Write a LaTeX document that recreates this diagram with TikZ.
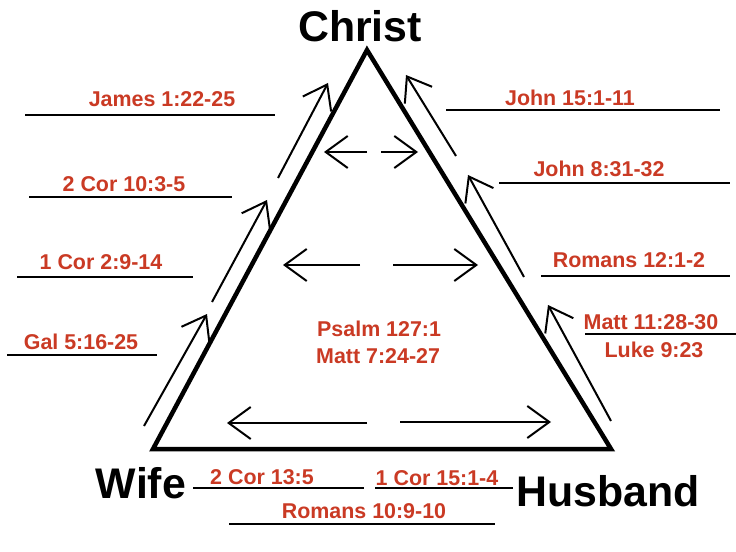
\documentclass[tikz,border=0pt]{standalone}
\usepackage{fontspec}
\setmainfont{Liberation Sans}
\usetikzlibrary{arrows.meta}
\definecolor{verse}{RGB}{202,58,36}
\tikzset{
    edge/.style={line width=4.5bp, line join=miter},
    push/.style={line width=2bp, -{Straight Barb[length=22bp,width=32bp]}},
    rule/.style={line width=2.5bp},
    ref/.style={text=verse, font=\fontsize{21.5}{24}\selectfont\bfseries, inner sep=0pt, anchor=base},
    who/.style={font=\fontsize{43}{48}\selectfont\bfseries, inner sep=0pt, anchor=base}
}
\begin{document}
\begin{tikzpicture}[x=1bp,y=-1bp]
    \useasboundingbox[fill=white] (0,0) rectangle (736,552);
    % the triangle
    \coordinate (apex) at (367,50);
    \coordinate (wifec) at (153,449);
    \coordinate (husbc) at (611,449);
    \draw[edge] (wifec) -- (apex) -- (husbc) -- cycle;
    \node[who] (christ) at (360,42) {Christ};
    \node[who] (wife) at (141,498) {Wife};
    \node[who] (husband) at (608,506) {Husband};
    % verses
    \foreach \i/\x/\y/\txt in {1/162/107/James 1:22-25, 2/124/192/2 Cor 10:3-5,
        3/101/270/1 Cor 2:9-14, 4/81/349/Gal 5:16-25, 5/570/106/John 15:1-11,
        6/599/177/John 8:31-32, 7/629/268/Romans 12:1-2, 8/651/329/Matt 11:28-30,
        9/654/357/Luke 9:23, 10/262/484/2 Cor 13:5, 11/437/485/1 Cor 15:1-4,
        12/364/518/Romans 10:9-10}
        {
            \node[ref] (v\i) at (\x,\y) {\txt};
        }
    \node[ref, anchor=base west] (psalm) at (317,336) {Psalm 127:1};
    \node[ref, anchor=base west] (matt) at (316,363) {Matt 7:24-27};
    % underlines
    \foreach \i/\a/\b/\y in {1/25/275/115, 2/29/232/197, 3/17/193/277, 4/7/157/355,
        5/446/720/110, 6/499/730/183, 7/541/730/276, 8/585/736/334,
        10/193/364/488, 11/375/513/488, 12/229/495/524}
        {
            \coordinate (ua\i) at (\a,\y);
            \coordinate (ub\i) at (\b,\y);
            \draw[rule] (ua\i) -- (ub\i);
        }
    % arrows
    \foreach \i/\xa/\ya/\xb/\yb in {1/278/178/328/83, 2/212/302/267/200, 3/144/426/207/314,
        4/456/156/406/75, 5/524/277/468/175, 6/611/421/548/305,
        7/367/152/324/152, 8/381/152/418/152, 9/360/265/283/265,
        10/393/265/478/265, 11/367/423/227/423, 12/400/422/551/422}
        {
            \coordinate (s\i) at (\xa,\ya);
            \coordinate (e\i) at (\xb,\yb);
            \draw[push] (s\i) -- (e\i);
        }
\end{tikzpicture}
\end{document}
